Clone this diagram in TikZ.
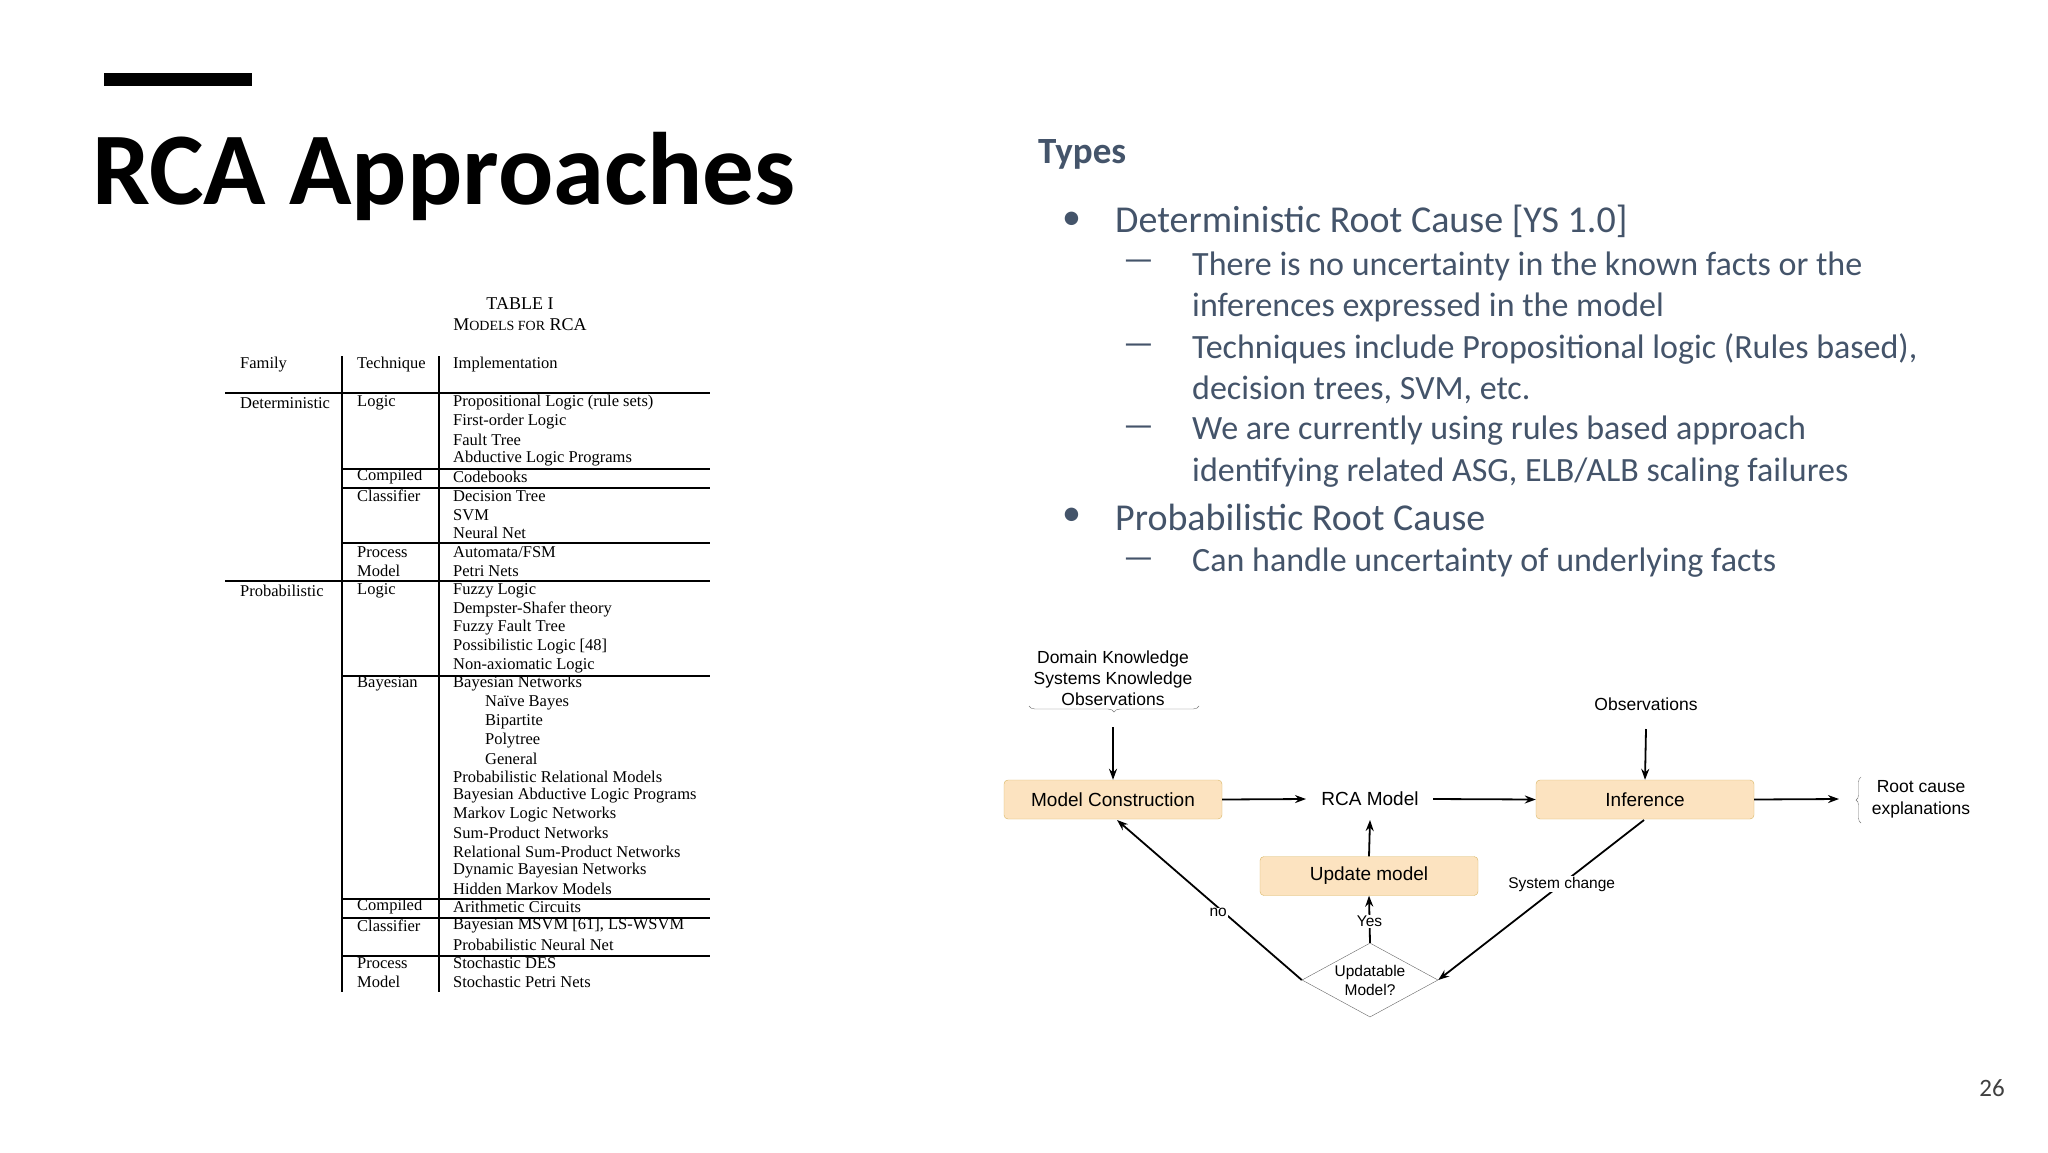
\documentclass[tikz,border=0pt]{standalone}
\usepackage{fontspec}
\setmainfont{Carlito}
\newfontfamily\tnr{Liberation Serif}
\newfontfamily\hel{Liberation Sans}
\usetikzlibrary{shapes.geometric,arrows.meta,decorations.pathreplacing}
\definecolor{slate}{HTML}{44546A}
\definecolor{peach}{HTML}{FCE3C0}
\definecolor{peachb}{HTML}{D9B766}
\tikzset{
 tab/.style={font=\tnr\fontsize{16.5}{16.5}\selectfont,anchor=west,inner sep=0},
 rule/.style={line width=2pt},
 lvlone/.style={font=\fontsize{38}{38}\selectfont,text=slate,anchor=west,inner sep=0},
 lvltwo/.style={font=\fontsize{34}{34}\selectfont,text=slate,anchor=west,inner sep=0},
 box/.style={draw=peachb,fill=peach,rounded corners=4pt,minimum width=218pt,minimum height=39pt,font=\hel\fontsize{19}{19}\selectfont},
 dlabel/.style={font=\hel\fontsize{19}{19}\selectfont,inner sep=1pt},
 slabel/.style={font=\hel\fontsize{15.5}{15.5}\selectfont,fill=white,inner sep=1pt},
 arr/.style={-{Stealth[length=11pt,width=8pt]},line width=1.8pt},
}
\begin{document}
\begin{tikzpicture}[x=1pt,y=-1pt]
\useasboundingbox (0,0) rectangle (2048,1152);
\fill[white] (0,0) rectangle (2048,1152);
% title
\fill[black] (104,73) rectangle (252,86);
\node[anchor=west,inner sep=0,font=\bfseries\fontsize{103}{103}\selectfont] (title) at (92,176) {RCA Approaches};
% right text
\node[anchor=west,inner sep=0,font=\bfseries\fontsize{37}{37}\selectfont,text=slate] (types) at (1038,154) {Types};
\node[lvlone] (b1d) at (1062,221) {•};
\node[lvlone] (b1) at (1115,221) {Deterministic Root Cause [YS 1.0]};
\node[lvltwo] (d1) at (1123,265) {—};
\node[lvltwo] (t1) at (1192,266) {There is no uncertainty in the known facts or the};
\node[lvltwo] (t1b) at (1192,307) {inferences expressed in the model};
\node[lvltwo] (d2) at (1123,349) {—};
\node[lvltwo] (t2) at (1192,349) {Techniques include Propositional logic (Rules based),};
\node[lvltwo] (t2b) at (1192,390) {decision trees, SVM, etc.};
\node[lvltwo] (d3) at (1123,431) {—};
\node[lvltwo] (t3) at (1192,431) {We are currently using rules based approach};
\node[lvltwo] (t3b) at (1192,473) {identifying related ASG, ELB/ALB scaling failures};
\node[lvlone] (b2d) at (1062,517) {•};
\node[lvlone] (b2) at (1115,517) {Probabilistic Root Cause};
\node[lvltwo] (d4) at (1123,563) {—};
\node[lvltwo] (t4) at (1192,563) {Can handle uncertainty of underlying facts};
\node[inner sep=0,font=\fontsize{25}{25}\selectfont,text=black!75] (pg) at (1992,1088) {26};
% table
\node[inner sep=0,font=\tnr\fontsize{18}{18}\selectfont] (tt) at (520,304) {TABLE I};
\node[inner sep=0,font=\tnr\fontsize{18}{18}\selectfont] (tt2) at (520,325) {M{\fontsize{14}{14}\selectfont ODELS FOR} RCA};
\draw[rule] (342,356) -- (342,992);
\draw[rule] (439,356) -- (439,992);
\draw[rule] (225,393) -- (710,393);
\draw[rule] (225,581) -- (710,581);
\foreach \y in {469,488,543,676,899,918,956} \draw[rule] (342,\y) -- (710,\y);
\node[tab] (hf) at (240,365) {Family};
\node[tab] (ht) at (357,365) {Technique};
\node[tab] (hi) at (453,365) {Implementation};
\node[tab] (fd) at (240,403) {Deterministic};
\node[tab] (fp) at (240,591) {Probabilistic};
\foreach \y/\t [count=\k] in {403/Logic,477/Compiled,496/Classifier,552/Process,571/Model,591/Logic,684/Bayesian,907/Compiled,926/Classifier,963/Process,982/Model}
  \node[tab] (tq\k) at (357,\y) {\t};
\foreach \y/\t [count=\k] in {403/Propositional Logic (rule sets),422/First-order Logic,440/Fault Tree,459/Abductive Logic Programs,477/Codebooks,496/Decision Tree,515/SVM,533/Neural Net,552/{Automata/FSM},571/Petri Nets,591/Fuzzy Logic,609/Dempster-Shafer theory,628/Fuzzy Fault Tree,647/{Possibilistic Logic [48]},666/Non-axiomatic Logic,684/Bayesian Networks,777/Probabilistic Relational Models,796/Bayesian Abductive Logic Programs,815/Markov Logic Networks,833/Sum-Product Networks,852/Relational Sum-Product Networks,871/Dynamic Bayesian Networks,889/Hidden Markov Models,907/Arithmetic Circuits,926/{Bayesian MSVM [61], LS-WSVM},945/Probabilistic Neural Net,963/Stochastic DES,982/Stochastic Petri Nets}
  \node[tab] (im\k) at (453,\y) {\t};
\foreach \y/\t [count=\k] in {703/Naïve Bayes,722/Bipartite,741/Polytree,759/General}
  \node[tab] (bn\k) at (485,\y) {\t};
% diagram
\node[dlabel,align=center,font=\hel\fontsize{17.5}{21}\selectfont] (dk) at (1113,678) {Domain Knowledge\\Systems Knowledge\\Observations};
\draw[black!55,decorate,decoration={brace,mirror,amplitude=6pt}] (1029,706) -- (1199,706);
\node[box] (mc) at (1113,799.5) {Model Construction};
\node[dlabel] (rca) at (1370,799) {RCA Model};
\node[box] (inf) at (1645,799.5) {Inference};
\node[dlabel,font=\hel\fontsize{17.5}{17.5}\selectfont] (obs) at (1646,704) {Observations};
\node[dlabel,align=center,font=\hel\fontsize{17.5}{22}\selectfont] (rce) at (1921,799) {Root cause\\explanations};
\draw[black!55,decorate,decoration={brace,amplitude=5pt}] (1861,823) -- (1861,777);
\node[box] (upd) at (1369,876) {Update model};
\node[diamond,draw=black!60,aspect=1.84,minimum width=136pt,minimum height=74pt,inner sep=0,align=center,font=\hel\fontsize{15.5}{19}\selectfont] (dia) at (1370,980) {Updatable\\Model?};
\draw[arr] (1113,727) -- (mc.north);
\draw[arr] (mc.east) -- (1306,799);
\draw[arr] (1433,799) -- (inf.west);
\draw[arr] (1646,729) -- (inf.north);
\draw[arr] (inf.east) -- (1839,799);
\draw[arr] (upd.north) -- (1370,820);
\draw[arr] (dia.north) -- node[slabel,pos=0.45] (yes) {Yes} (upd.south);
\draw[arr] (dia.west) -- node[slabel,pos=0.42,xshift=-6pt] (no) {no} (1117,820);
\draw[arr] (1644,820) -- node[slabel,pos=0.4] (sc) {System change} (dia.east);
\end{tikzpicture}
\end{document}
